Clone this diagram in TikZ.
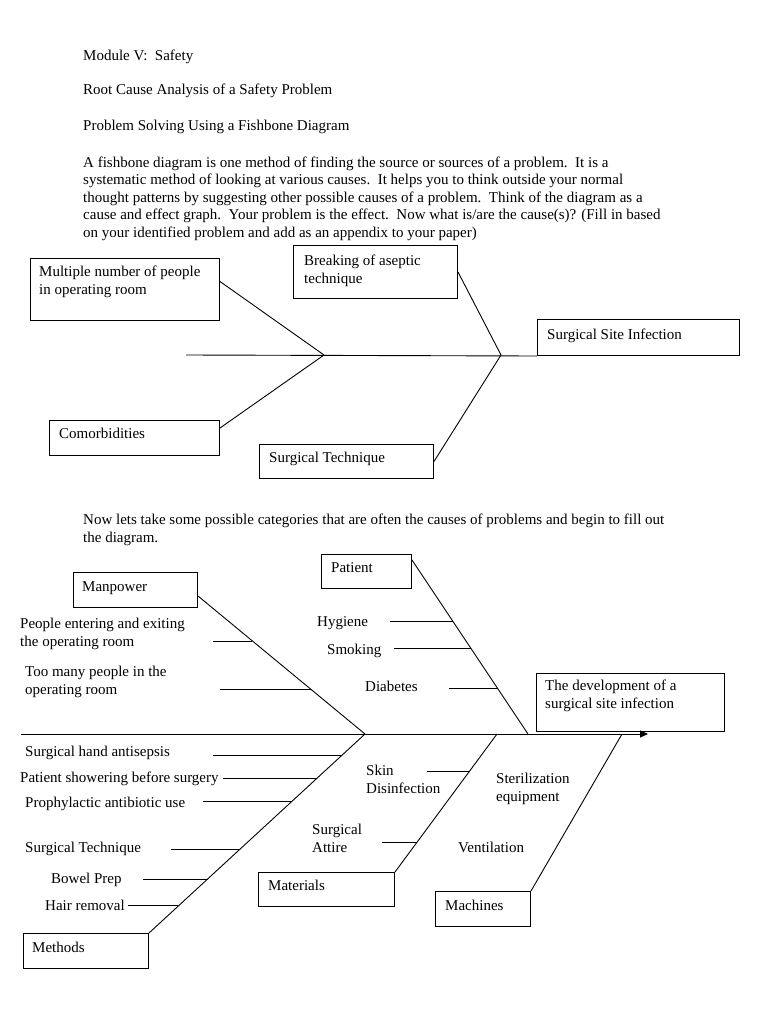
\documentclass[tikz,border=0pt]{standalone}
\usepackage{fontspec}
\setmainfont{Liberation Serif}
\usetikzlibrary{arrows.meta,calc}
\tikzstyle{box} = [rectangle,draw,line width=1pt,inner sep=0pt,anchor=north west]
\tikzstyle{txt} = [inner sep=0pt,anchor=base west,align=left]
\tikzstyle{bone} = [line width=0.9pt]

\begin{document}
\begin{tikzpicture}[x=1pt,y=-1pt,font=\fontsize{15}{17.5}\selectfont]
		\fill[white] (0,0) rectangle (768,1024);
		\useasboundingbox (0,0) rectangle (768,1024);

		\node [txt](module) at (83,61){Module V:\ \ Safety};
		\node [txt](rca) at (83,95){Root Cause Analysis of a Safety Problem};
		\node [txt](title) at (83,131){Problem Solving Using a Fishbone Diagram};
		\node [txt](intro) at (83,237){A fishbone diagram is one method of finding the source or sources of a problem.\ \ It is a\\
		systematic method of looking at various causes.\ \ It helps you to think outside your normal\\
		thought patterns by suggesting other possible causes of a problem.\ \ Think of the diagram as a\\
		cause and effect graph.\ \ Your problem is the effect.\ \ Now what is/are the cause(s)? (Fill in based\\
		on your identified problem and add as an appendix to your paper)};

		\node [box,minimum width=189,minimum height=62](mult) at (30,258){};
		\node [txt](multtxt) at (39,294){Multiple number of people\\in operating room};
		\node [box,minimum width=164,minimum height=53](asep) at (293,245){};
		\node [txt](aseptxt) at (304,283){Breaking of aseptic\\technique};
		\node [box,minimum width=202,minimum height=36](ssi) at (537,319){};
		\node [txt](ssitxt) at (547,339){Surgical Site Infection};
		\node [box,minimum width=170,minimum height=35](comorb) at (49,420){};
		\node [txt](comorbtxt) at (59,438){Comorbidities};
		\node [box,minimum width=174,minimum height=34](stech) at (259,444){};
		\node [txt](stechtxt) at (269,462){Surgical Technique};

		\coordinate (tail1) at (186,355);
		\coordinate (ja) at (324,355);
		\coordinate (jb) at (501,355);
		\draw[bone](tail1)--(ssi.south west);
		\draw[bone]([yshift=8pt]mult.east)--(ja);
		\draw[bone]([yshift=-8pt]comorb.north east)--(ja);
		\draw[bone](asep.east)--(jb);
		\draw[bone](stech.east)--(jb);

		\node [txt](now) at (83,542){Now lets take some possible categories that are often the causes of problems and begin to fill out\\the diagram.};

		\node [box,minimum width=124,minimum height=35](manpower) at (73,572){};
		\node [txt](manpowertxt) at (82,591){Manpower};
		\node [box,minimum width=90,minimum height=34](patient) at (321,554){};
		\node [txt](patienttxt) at (331,572){Patient};
		\node [box,minimum width=188,minimum height=58](effect) at (536,673){};
		\node [txt](effecttxt) at (545,708){The development of a\\surgical site infection};
		\node [box,minimum width=125,minimum height=35](methods) at (23,933){};
		\node [txt](methodstxt) at (32,952){Methods};
		\node [box,minimum width=136,minimum height=34](materials) at (258,872){};
		\node [txt](materialstxt) at (268,890){Materials};
		\node [box,minimum width=95,minimum height=35](machines) at (435,891){};
		\node [txt](machinestxt) at (445,910){Machines};

		\node [txt](entering) at (20,646){People entering and exiting\\the operating room};
		\node [txt](toomany) at (25,694){Too many people in the\\operating room};
		\node [txt](hygiene) at (317,626){Hygiene};
		\node [txt](smoking) at (327,654){Smoking};
		\node [txt](diabetes) at (365,691){Diabetes};
		\node [txt](handanti) at (25,756){Surgical hand antisepsis};
		\node [txt](shower) at (20,782){Patient showering before surgery};
		\node [txt](antibiotic) at (25,807){Prophylactic antibiotic use};
		\node [txt](surgtech) at (25,852){Surgical Technique};
		\node [txt](bowel) at (51,883){Bowel Prep};
		\node [txt](hair) at (45,910){Hair removal};
		\node [txt](skin) at (366,793){Skin\\Disinfection};
		\node [txt](attire) at (312,852){Surgical\\Attire};
		\node [txt](steril) at (496,801){Sterilization\\equipment};
		\node [txt](vent) at (458,852){Ventilation};

		\coordinate (tail2) at (21,734);
		\coordinate (head) at (648,734);
		\coordinate (jm) at (365,734);
		\coordinate (jmat) at (497,734);
		\coordinate (jpat) at (528,734);
		\coordinate (jmac) at (622,734);
		\coordinate (mpend) at ([yshift=-6pt]manpower.east);
		\coordinate (patend) at ([yshift=-6pt]patient.north east);

		\draw[bone,-{Triangle[length=8pt,width=7pt]}](tail2)--(head);
		\draw[bone](mpend)--(jm);
		\draw[bone](patend)--(jpat);
		\draw[bone](methods.north east)--(jm);
		\draw[bone](materials.north east)--(jmat);
		\draw[bone](machines.north east)--(jmac);

		\draw[bone]($(mpend)!0.326!(jm)$)--++(-39,0);
		\draw[bone]($(mpend)!0.674!(jm)$)--++(-91,0);
		\draw[bone]($(patend)!0.351!(jpat)$)--++(-63,0);
		\draw[bone]($(patend)!0.511!(jpat)$)--++(-77,0);
		\draw[bone]($(patend)!0.741!(jpat)$)--++(-49,0);
		\draw[bone]($(methods.north east)!0.894!(jm)$)--++(-129,0);
		\draw[bone]($(methods.north east)!0.779!(jm)$)--++(-94,0);
		\draw[bone]($(methods.north east)!0.663!(jm)$)--++(-89,0);
		\draw[bone]($(methods.north east)!0.422!(jm)$)--++(-69,0);
		\draw[bone]($(methods.north east)!0.271!(jm)$)--++(-65,0);
		\draw[bone]($(methods.north east)!0.136!(jm)$)--++(-50,0);
		\draw[bone]($(materials.north east)!0.732!(jmat)$)--++(-43,0);
		\draw[bone]($(materials.north east)!0.217!(jmat)$)--++(-35,0);
\end{tikzpicture}
\end{document}
